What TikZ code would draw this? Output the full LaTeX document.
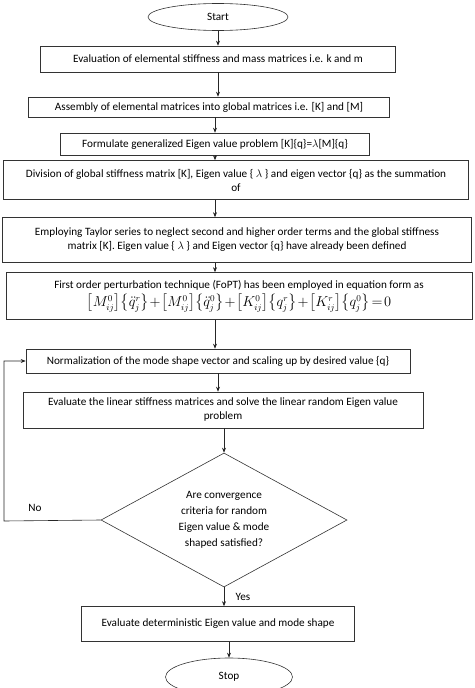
\documentclass[tikz,border=0pt]{standalone}
\usepackage{amsmath}
\usepackage{fontspec}
\setmainfont{Carlito}
\usetikzlibrary{shapes.geometric, arrows.meta, positioning}

\begin{document}
\begin{tikzpicture}[
    x=1pt, y=-1pt,
    >={Stealth[length=5pt,width=4pt]},
    line width=0.6pt,
    stepbox/.style={draw=black!80, minimum width=#1, align=center, inner sep=1pt, font=\fontsize{11.2}{14}\selectfont},
    stepbox/.default={300pt},
    term/.style={draw=black!80, ellipse, align=center, font=\fontsize{11.2}{13}\selectfont},
    check/.style={draw=black!80, diamond, aspect=1.84, inner sep=0pt, minimum width=246pt, minimum height=134pt, align=center, font=\fontsize{11.2}{16}\selectfont},
    flow/.style={->, draw=black!85}
]
\useasboundingbox (0,0) rectangle (474,688);

\node[term, minimum width=140pt, minimum height=27pt] (start) at (218,17) {Start};
\node[stepbox=355pt, minimum height=26pt] (elem) at (218,59) {Evaluation of elemental stiffness and mass matrices i.e. k and m};
\node[stepbox=361pt, minimum height=20pt] (asm) at (209,107) {Assembly of elemental matrices into global matrices i.e. [K] and [M]};
\node[stepbox=309pt, minimum height=22pt] (gev) at (215,144) {Formulate generalized Eigen value problem [K]\{q\}=$\lambda$[M]\{q\}};
\node[stepbox=465pt, minimum height=39pt] (div) at (236,180) {Division of global stiffness matrix [K], Eigen value \{ $\lambda$ \} and eigen vector \{q\} as the summation\\of};
\node[stepbox=469pt, minimum height=45pt] (taylor) at (237,240) {Employing Taylor series to neglect second and higher order terms and the global stiffness\\matrix [K]. Eigen value \{ $\lambda$ \} and Eigen vector \{q\} have already been defined};
\node[stepbox=466pt, minimum height=47pt] (fopt) at (239,296) {First order perturbation technique (FoPT) has been employed in equation form as\\[3pt]{\fontsize{13.5}{15}\selectfont$\bigl[M_{ij}^{0}\bigr]\bigl\{\ddot{q}_{j}^{r}\bigr\}\!+\!\bigl[M_{ij}^{0}\bigr]\bigl\{\ddot{q}_{j}^{0}\bigr\}\!+\!\bigl[K_{ij}^{0}\bigr]\bigl\{q_{j}^{r}\bigr\}\!+\!\bigl[K_{ij}^{r}\bigr]\bigl\{q_{j}^{0}\bigr\}\!=\!0$}};
\node[stepbox=384pt, minimum height=24pt] (norm) at (218,361) {Normalization of the mode shape vector and scaling up by desired value \{q\}};
\node[stepbox=400pt, minimum height=36pt] (lin) at (223,410) {Evaluate the linear stiffness matrices and solve the linear random Eigen value\\problem};
\node[check] (conv) at (224,520) {Are convergence\\criteria for random\\Eigen value \& mode\\shaped satisfied?};
\node[stepbox=273pt, minimum height=35pt] (det) at (218,624) {Evaluate deterministic Eigen value and mode shape};
\node[term, minimum width=127pt, minimum height=38pt] (stop) at (229,677) {Stop};

% main flow
\draw[flow] (start.south) -- (start.south |- elem.north);
\draw[flow] (elem.south) -- (elem.south |- asm.north);
\draw[flow] (gev.north |- asm.south) -- (gev.north);
\draw[flow] (gev.south) -- (gev.south |- div.north);
\draw[flow] (gev.south |- div.south) -- (gev.south |- taylor.north);
\draw[flow] (gev.south |- taylor.south) -- (gev.south |- fopt.north);
\draw[flow] (gev.south |- fopt.south) -- (gev.south |- norm.north);
\draw[flow] (norm.south) -- (norm.south |- lin.north);
\draw[flow] (conv.north |- lin.south) -- (conv.north);
\draw[flow] (conv.south) -- (conv.south |- det.north) node[midway, right=8pt, font=\fontsize{11.2}{13}\selectfont] (yes) {Yes};
\draw[flow] (stop.north |- det.south) -- (stop.north);

% loop back
\coordinate (back) at (4,521);
\draw[flow] (conv.west) -- (back) -- (back |- norm.west) -- (norm.west);
\node[font=\fontsize{11.2}{13}\selectfont] (no) at (35,508) {No};

\end{tikzpicture}
\end{document}
